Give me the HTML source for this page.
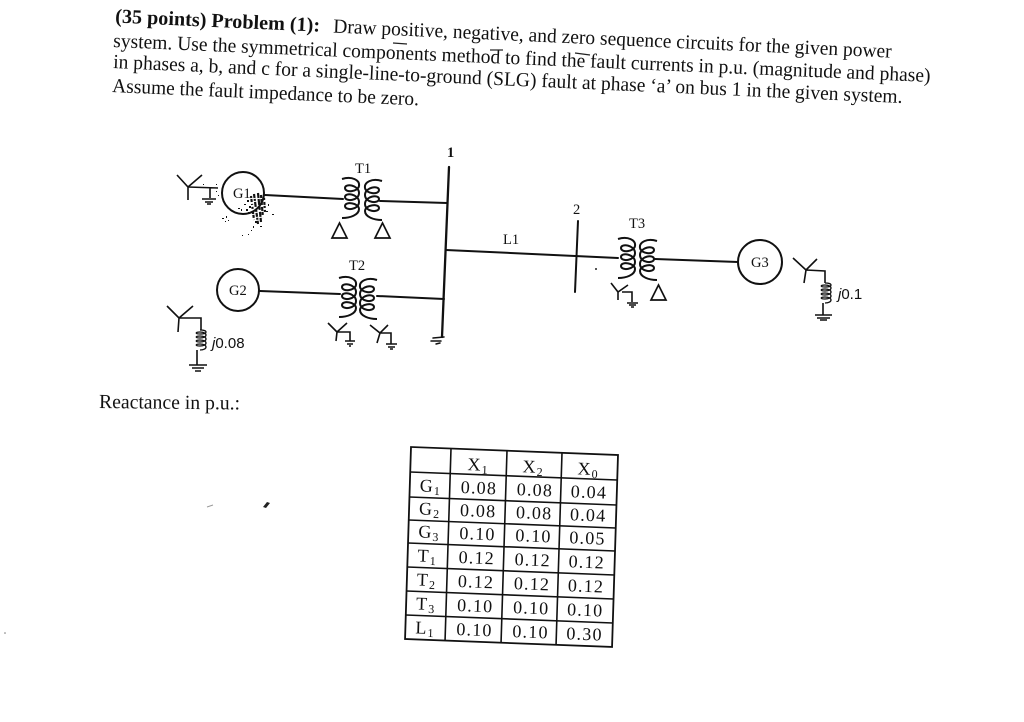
<!DOCTYPE html>
<html>
<head>
<meta charset="utf-8">
<style>
html,body{margin:0;padding:0;background:#fff;}
svg{display:block;}
text{font-family:"Liberation Serif",serif;fill:#111;}
.t{font-size:20px;}
.l{font-size:14.5px;}
.tb{font-size:18px;letter-spacing:1.2px;}
.s{font-size:12px;}
</style>
</head>
<body>
<svg width="1024" height="722" viewBox="0 0 1024 722" xmlns="http://www.w3.org/2000/svg">
<defs>
<path id="coil" d="M0 1 C10 -2 18 2 17 8 C16 14 3 15 3 10 C3 5 17 7 17 15 C17 23 3 24 3 19 C3 14 17 16 17 24 C17 32 3 33 3 28 C3 23 17 25 17 31 C17 37 8 40 0 40" fill="none" stroke="#111" stroke-width="2"/>
<path id="small" d="M0 0 C8 0 8 4 0 4 C-5 4 -5 2 0 2 C8 2 8 8 0 8 C-5 8 -5 6 0 6 C8 6 8 12 0 12 C-5 12 -5 10 0 10 C8 10 8 16 0 16 C-5 16 -5 14 0 14 C8 14 8 20 0 20" fill="none" stroke="#111" stroke-width="1.3"/>
<path id="delta" d="M7.5 0 L15 15 L0 15 Z" fill="none" stroke="#111" stroke-width="1.7"/>
</defs>

<!-- heading -->
<text class="t" font-weight="bold" transform="translate(115 22.5) rotate(2.58)" textLength="205" lengthAdjust="spacingAndGlyphs">(35 points) Problem (1):</text>
<text class="t" transform="translate(333 32.5) rotate(2.58)" textLength="559" lengthAdjust="spacingAndGlyphs">Draw positive, negative, and zero sequence circuits for the given power</text>
<text class="t" transform="translate(113 47) rotate(2.45)" textLength="818" lengthAdjust="spacingAndGlyphs">system. Use the symmetrical components method to find the fault currents in p.u. (magnitude and phase)</text>
<text class="t" transform="translate(113 68) rotate(2.54)" textLength="790" lengthAdjust="spacingAndGlyphs">in phases a, b, and c for a single-line-to-ground (SLG) fault at phase ‘a’ on bus 1 in the given system.</text>
<text class="t" transform="translate(112 92) rotate(2.5)" textLength="307" lengthAdjust="spacingAndGlyphs">Assume the fault impedance to be zero.</text>
<g stroke="#222" stroke-width="1.2" fill="none">
<path d="M393 43 L407 44"/><path d="M490 50 L503 50"/><path d="M575 53 L590 55"/>
</g>

<!-- buses and lines -->
<g stroke="#111" fill="none" stroke-width="2" stroke-linecap="round">
<path d="M449 167 L442 337" stroke-width="2.3"/>
<path d="M578 221 L575 292"/>
<path d="M265 195 L343 199"/>
<path d="M380 201 L447 203"/>
<path d="M260 291 L340 294"/>
<path d="M377 296 L444 299"/>
<path d="M446 250 L618 258"/>
<path d="M655 259 L738 262"/>
<circle cx="243" cy="193" r="21"/>
<circle cx="238" cy="290" r="21"/>
<circle cx="760" cy="262" r="22"/>
<path d="M433 338 L444 337 M431 341 L441 341 M436 344 L440 343" stroke-width="1.5"/>
</g>

<!-- transformers -->
<use href="#coil" transform="translate(342 178)"/>
<use href="#coil" transform="translate(382 180) scale(-1 1)"/>
<use href="#coil" transform="translate(339 277)"/>
<use href="#coil" transform="translate(377 279) scale(-1 1)"/>
<use href="#coil" transform="translate(618 238)"/>
<use href="#coil" transform="translate(657 240) scale(-1 1)"/>

<use href="#delta" transform="translate(332 223)"/>
<use href="#delta" transform="translate(375 223)"/>
<use href="#delta" transform="translate(651 285)"/>

<!-- wye and grounds -->
<g stroke="#111" fill="none" stroke-width="1.6">
<!-- G1 -->
<path d="M177 175 L188 187 L202 175 M188 187 L188 200"/>
<path d="M188 187 L218 188 M210 188 L210 198 M202 199 L216 199 M205 202 L213 202 M207 204 L211 204"/>
<!-- G2 -->
<path d="M167 306 L179 318 L193 306 M179 318 L178 332 M179 318 L201 318 L201 330"/>
<path d="M197 350 L197 365 M189 365 L207 365 M192 368 L204 368 M195 371 L201 371"/>
<!-- T2 left -->
<path d="M328 323 L337 332 L347 323 M337 332 L336 341 M337 332 L350 332 L350 341 M345 341 L355 341 M347 344 L353 344 M349 346 L351 346"/>
<!-- T2 right -->
<path d="M370 325 L380 333 L388 325 M380 333 L377 343 M380 333 L391 333 L391 344 M386 344 L397 344 M388 347 L395 347 M390 349 L393 349"/>
<!-- T3 -->
<path d="M611 283 L618 292 L628 285 M618 292 L618 300 M622 292 L632 292 L632 302 M627 303 L638 303 M629 305 L636 305 M631 307 L634 307"/>
<!-- G3 -->
<path d="M793 258 L806 270 L817 259 M806 270 L804 283 M806 270 L825 271 L825 283"/>
<path d="M823 303 L823 315 M815 315 L832 315 M817 318 L830 318 M820 320 L827 320"/>
</g>
<use href="#small" transform="translate(200 330)"/>
<use href="#small" transform="translate(825 283)"/>

<!-- labels -->
<text class="l" x="355" y="173">T1</text>
<text class="l" x="349" y="270">T2</text>
<text class="l" x="629" y="228">T3</text>
<text class="l" x="503" y="244">L1</text>
<text class="l" x="447" y="157" font-weight="bold">1</text>
<text class="l" x="573" y="214">2</text>
<text class="l" x="229" y="295">G2</text>
<text class="l" x="751" y="267">G3</text>
<text class="l" x="233" y="198">G1</text>
<text style="font-family:'Liberation Sans',sans-serif;font-size:15px" x="212" y="348"><tspan font-style="italic">j</tspan>0.08</text>
<text style="font-family:'Liberation Sans',sans-serif;font-size:15px" x="838" y="299"><tspan font-style="italic">j</tspan>0.1</text>

<!-- speckle on G1 -->
<g stroke="#111" fill="none" stroke-width="2.2">
<path d="M251 196 L254 220" stroke-dasharray="2 1 3 2 1 2 2 3"/>
<path d="M254 194 L258 224" stroke-dasharray="4 1 2 1 5 2 3 1"/>
<path d="M258 193 L261 222" stroke-dasharray="5 1 6 1 4 2 5 1"/>
<path d="M261 195 L263 218" stroke-dasharray="3 1 6 2 4 1 3"/>
<path d="M264 198 L265 212" stroke-dasharray="2 2 3 1 2 2"/>
</g>
<g fill="#111">
<rect x="247" y="200" width="2" height="2"/><rect x="244" y="204" width="2" height="1"/><rect x="249" y="206" width="2" height="2"/>
<rect x="246" y="209" width="2" height="2"/><rect x="241" y="209" width="1" height="2"/><rect x="238" y="208" width="2" height="1"/>
<rect x="252" y="212" width="2" height="2"/><rect x="248" y="212" width="2" height="1"/><rect x="255" y="221" width="2" height="2"/>
<rect x="266" y="211" width="2" height="1"/><rect x="268" y="204" width="1" height="2"/><rect x="272" y="214" width="2" height="1"/>
<rect x="222" y="218" width="2" height="1"/><rect x="226" y="216" width="1" height="2"/><rect x="228" y="220" width="1" height="1"/>
<rect x="225" y="221" width="1" height="1"/><rect x="253" y="226" width="1" height="2"/><rect x="251" y="230" width="1" height="1"/>
<rect x="248" y="234" width="1" height="1"/><rect x="242" y="235" width="1" height="1"/><rect x="260" y="226" width="2" height="1"/>
<rect x="216" y="184" width="1" height="1"/><rect x="218" y="195" width="1" height="1"/>
<rect x="216" y="191" width="1" height="1"/><rect x="203" y="184" width="1" height="1"/>
</g>

<!-- stray marks -->
<circle cx="596" cy="269" r="1" fill="#222"/>
<path d="M263 507 L267 502 L270 503 L266 508 Z" fill="#222"/>
<path d="M207 507 L213 505" stroke="#999" stroke-width="1" fill="none"/>
<circle cx="5" cy="633" r="0.8" fill="#777"/>

<text class="t" transform="translate(99 408) rotate(0.6)" textLength="141" lengthAdjust="spacingAndGlyphs">Reactance in p.u.:</text>

<!-- table -->
<g transform="matrix(1 .0386 -.031 1 411 447)">
<g stroke="#111" stroke-width="1.6" fill="none">
<rect x="0" y="0" width="207" height="192" stroke-width="1.8"/>
<path d="M0 25 H207 M0 50 H207 M0 73 H207 M0 96 H207 M0 120 H207 M0 144 H207 M0 168 H207"/>
<path d="M40 0 V192 M96 0 V192 M151 0 V192"/>
</g>
<text class="tb" x="57" y="21">X<tspan class="s" dy="3">1</tspan></text>
<text class="tb" x="112" y="21">X<tspan class="s" dy="3">2</tspan></text>
<text class="tb" x="167" y="21">X<tspan class="s" dy="3">0</tspan></text>

<text class="tb" x="10" y="44">G<tspan class="s" dy="3">1</tspan></text>
<text class="tb" x="51" y="44">0.08</text><text class="tb" x="107" y="44">0.08</text><text class="tb" x="161" y="44">0.04</text>

<text class="tb" x="10" y="67">G<tspan class="s" dy="3">2</tspan></text>
<text class="tb" x="51" y="67">0.08</text><text class="tb" x="107" y="67">0.08</text><text class="tb" x="161" y="67">0.04</text>

<text class="tb" x="10" y="90">G<tspan class="s" dy="3">3</tspan></text>
<text class="tb" x="51" y="90">0.10</text><text class="tb" x="107" y="90">0.10</text><text class="tb" x="161" y="90">0.05</text>

<text class="tb" x="10" y="114">T<tspan class="s" dy="3">1</tspan></text>
<text class="tb" x="51" y="114">0.12</text><text class="tb" x="107" y="114">0.12</text><text class="tb" x="161" y="114">0.12</text>

<text class="tb" x="10" y="138">T<tspan class="s" dy="3">2</tspan></text>
<text class="tb" x="51" y="138">0.12</text><text class="tb" x="107" y="138">0.12</text><text class="tb" x="161" y="138">0.12</text>

<text class="tb" x="10" y="162">T<tspan class="s" dy="3">3</tspan></text>
<text class="tb" x="51" y="162">0.10</text><text class="tb" x="107" y="162">0.10</text><text class="tb" x="161" y="162">0.10</text>

<text class="tb" x="10" y="186">L<tspan class="s" dy="3">1</tspan></text>
<text class="tb" x="51" y="186">0.10</text><text class="tb" x="107" y="186">0.10</text><text class="tb" x="161" y="186">0.30</text>
</g>
</svg>
</body>
</html>
